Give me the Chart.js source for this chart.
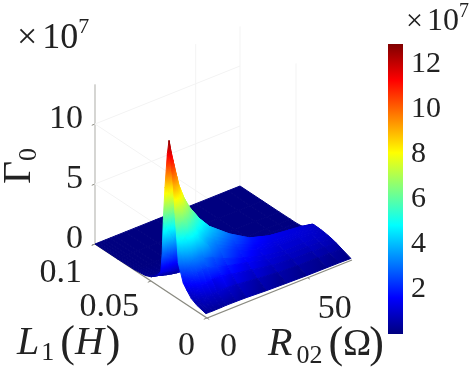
<!DOCTYPE html>
<html>
<head>
<meta charset="utf-8">
<style>
html, body { margin: 0; padding: 0; background: #fff; overflow: hidden; }
#wrap { position: relative; width: 474px; height: 369px; }
canvas { position: absolute; top: 0; filter: blur(0.4px); }
</style>
<script src="https://cdn.jsdelivr.net/npm/chart.js@4"></script>
</head>
<body>
<div id="wrap">
<canvas id="surface" width="474" height="369" style="left:0"></canvas>
<canvas id="colorbar" width="94" height="369" style="left:380px"></canvas>
</div>
<script>
// all gamma values are in units of 1e7
const rValues = [72, 66, 60, 50, 40, 30, 20, 15, 10, 7.5, 5, 3.5, 2, 1, 0];
const lValues = [0.1, 0.08, 0.065, 0.055, 0.05, 0.045, 0.0413, 0.04, 0.039, 0.0375, 0.0354, 0.0339,
    0.0315, 0.03, 0.0286, 0.0271, 0.0256, 0.0212, 0.018, 0.014, 0.009, 0.001];
// one row per L value, columns follow rValues
const gammaRows = [
    [0, 0, 0, 0, 0, 0, 0, 0, 0, 0, 0, 0, 0, 0, 0],
    [0, 0, 0, 0, 0, 0, 0, 0, 0, 0, 0, 0, 0, 0, 0],
    [0, 0, 0, 0, 0, 0, 0.01, 0.01, 0.01, 0.01, 0.01, 0.01, 0.02, 0.02, 0.03],
    [0.01, 0.01, 0.01, 0.01, 0.01, 0.02, 0.03, 0.04, 0.05, 0.07, 0.09, 0.11, 0.13, 0.14, 0.15],
    [0.01, 0.01, 0.01, 0.02, 0.02, 0.04, 0.07, 0.09, 0.13, 0.17, 0.22, 0.26, 0.3, 0.32, 0.35],
    [0.06, 0.07, 0.07, 0.07, 0.09, 0.14, 0.19, 0.24, 0.32, 0.4, 0.5, 0.57, 0.65, 0.7, 0.76],
    [0.2, 0.22, 0.24, 0.28, 0.38, 0.6, 0.8, 0.9, 1.0, 1.1, 1.2, 1.25, 1.3, 1.3, 1.3],
    [0.34, 0.36, 0.38, 0.42, 0.57, 0.87, 1.26, 1.55, 1.85, 2.05, 2.3, 2.5, 2.7, 2.8, 2.9],
    [0.45, 0.5, 0.54, 0.63, 0.85, 1.3, 1.9, 2.35, 2.9, 3.35, 3.9, 4.4, 4.9, 5.3, 5.75],
    [0.62, 0.74, 0.82, 0.95, 1.3, 1.97, 2.85, 3.55, 4.4, 5, 5.85, 6.6, 7.4, 8, 8.6],
    [0.8, 1, 1.1, 1.29, 1.75, 2.67, 3.85, 4.8, 5.95, 6.75, 7.8, 8.8, 9.9, 10.6, 11.5],
    [0.85, 1.07, 1.2, 1.4, 1.9, 2.9, 4.2, 5.2, 6.5, 7.4, 8.6, 9.7, 10.9, 11.7, 12.7],
    [0.84, 1.06, 1.18, 1.33, 1.8, 2.7, 3.85, 4.7, 6.0, 6.88, 7.91, 8.73, 9.6, 9.95, 10.4],
    [0.83, 1.04, 1.16, 1.28, 1.72, 2.55, 3.6, 4.4, 5.6, 6.4, 7.48, 8.15, 8.72, 8.9, 9.1],
    [0.82, 1.03, 1.13, 1.22, 1.62, 2.35, 3.35, 4.0, 5.2, 5.9, 6.79, 7.18, 7.41, 7.25, 7],
    [0.81, 1.01, 1.1, 1.16, 1.52, 2.2, 3.1, 3.7, 4.85, 5.4, 6.02, 6.21, 6.1, 5.62, 5.1],
    [0.8, 0.98, 1.06, 1.1, 1.43, 2.05, 2.9, 3.45, 4.5, 4.85, 5.16, 5.04, 4.58, 3.86, 3],
    [0.73, 0.88, 0.94, 0.95, 1.2, 1.7, 2.3, 2.7, 3.0, 3.15, 3.18, 2.91, 2.4, 1.99, 1.6],
    [0.66, 0.78, 0.83, 0.85, 1.05, 1.5, 1.9, 2.2, 2.4, 2.4, 2.32, 2.04, 1.74, 1.4, 1.2],
    [0.55, 0.62, 0.66, 0.7, 0.85, 1.15, 1.45, 1.65, 1.65, 1.6, 1.5, 1.36, 1.09, 0.94, 0.76],
    [0.36, 0.42, 0.44, 0.46, 0.55, 0.72, 0.92, 0.98, 0.95, 0.92, 0.86, 0.78, 0.65, 0.58, 0.5],
    [0.07, 0.09, 0.1, 0.11, 0.15, 0.2, 0.29, 0.31, 0.32, 0.3, 0.3, 0.29, 0.3, 0.3, 0.3]
];
const zTicks = [0, 5, 10];
const zTickLabels = ["0", "5", "10"];
const lTicks = [0, 0.05, 0.1];
const lTickLabels = ["0", "0.05", "0.1"];
const rTicks = [0, 50];
const rTickLabels = ["0", "50"];
const colorbarTicks = [2, 4, 6, 8, 10, 12];
const colorbarRange = [0, 12.9];

const R_MAX = 72, L_MAX = 0.1, Z_MAX = 13.3;
const serif = "'Liberation Serif', serif";

function project(r, l, g) {
    return {
        x: 207 + (r / R_MAX) * 145 - (l / L_MAX) * 112,
        y: 318 - (r / R_MAX) * 58 - (l / L_MAX) * 74 - g * 12
    };
}

function jet(v) {
    // v in 0..1, matlab style jet
    let r = Math.min(4 * v - 1.5, -4 * v + 4.5);
    let g = Math.min(4 * v - 0.5, -4 * v + 3.5);
    let b = Math.min(4 * v + 0.5, -4 * v + 2.5);
    r = Math.max(0, Math.min(1, r));
    g = Math.max(0, Math.min(1, g));
    b = Math.max(0, Math.min(1, b));
    return "rgb(" + Math.round(r * 255) + "," + Math.round(g * 255) + "," + Math.round(b * 255) + ")";
}

function gammaColor(g) {
    return jet((g - colorbarRange[0]) / (colorbarRange[1] - colorbarRange[0]));
}

function line3d(points, color, width) {
    return {
        data: points.map(p => project(p[0], p[1], p[2])),
        showLine: true,
        borderColor: color,
        borderWidth: width,
        pointRadius: 0,
        order: 1
    };
}

let datasets = [];
const gridColor = "#f3f3f3";
const axisColor = "#8b8b82";

// faint wall grid
for (const z of zTicks.slice(1)) {
    datasets.push(line3d([[0, 0, z], [0, L_MAX, z], [R_MAX, L_MAX, z]], gridColor, 1));
}
for (const r of rTicks.concat([R_MAX])) {
    datasets.push(line3d([[r, L_MAX, 0], [r, L_MAX, Z_MAX]], gridColor, 1));
}
datasets.push(line3d([[R_MAX, 0.05, 0], [R_MAX, 0.05, Z_MAX]], gridColor, 1));

// axes and tick marks
datasets.push(line3d([[0, L_MAX, 0], [0, L_MAX, Z_MAX]], axisColor, 1.2));
datasets.push(line3d([[0, L_MAX, 0], [0, 0, 0], [R_MAX, 0, 0]], axisColor, 1.2));
for (const z of zTicks) {
    datasets.push(line3d([[0, L_MAX, z], [-1.6, L_MAX, z]], axisColor, 1));
}
for (const l of lTicks) {
    datasets.push(line3d([[0, l, 0], [-1.6, l, 0]], axisColor, 1));
}
for (const r of rTicks) {
    datasets.push(line3d([[r, 0, 0], [r, -0.002, 0]], axisColor, 1));
}

// surface rows, back to front
lValues.forEach((l, i) => {
    datasets.push({
        label: "L=" + l,
        data: rValues.map((r, j) => project(r, l, gammaRows[i][j])),
        showLine: false,
        pointRadius: 0,
        surfaceRow: i,
        order: 0
    });
});

function drawRuns(ctx, x, y, runs, rotate) {
    ctx.save();
    ctx.translate(x, y);
    if (rotate) ctx.rotate(rotate);
    ctx.fillStyle = "#222";
    ctx.textAlign = "left";
    ctx.textBaseline = "alphabetic";
    let cx = 0;
    for (const run of runs) {
        ctx.font = (run.italic ? "italic " : "") + run.size + "px " + serif;
        ctx.fillText(run.t, cx, run.dy || 0);
        cx += ctx.measureText(run.t).width + (run.gap || 0);
    }
    ctx.restore();
}

const surfacePlugin = {
    id: "surfacePlugin",
    afterDatasetsDraw(chart) {
        const ctx = chart.ctx;
        const metas = [];
        chart.data.datasets.forEach((ds, k) => {
            if (ds.surfaceRow !== undefined) metas[ds.surfaceRow] = chart.getDatasetMeta(k).data;
        });
        ctx.save();
        ctx.lineWidth = 1;
        ctx.lineJoin = "round";
        for (let i = 0; i < metas.length - 1; i++) {
            for (let j = 0; j < rValues.length - 1; j++) {
                const corners = [[i, j], [i, j + 1], [i + 1, j + 1], [i + 1, j]];
                let lo = corners[0], hi = corners[0];
                for (const c of corners) {
                    if (gammaRows[c[0]][c[1]] < gammaRows[lo[0]][lo[1]]) lo = c;
                    if (gammaRows[c[0]][c[1]] > gammaRows[hi[0]][hi[1]]) hi = c;
                }
                const gLo = gammaRows[lo[0]][lo[1]], gHi = gammaRows[hi[0]][hi[1]];
                const pLo = metas[lo[0]][lo[1]], pHi = metas[hi[0]][hi[1]];
                let paint;
                if (gHi - gLo < 0.02) {
                    paint = gammaColor(gLo);
                } else {
                    paint = ctx.createLinearGradient(pLo.x, pLo.y, pHi.x, pHi.y);
                    for (let t = 0; t <= 6; t++) {
                        paint.addColorStop(t / 6, gammaColor(gLo + (gHi - gLo) * t / 6));
                    }
                }
                ctx.beginPath();
                corners.forEach((c, n) => {
                    const p = metas[c[0]][c[1]];
                    if (n === 0) ctx.moveTo(p.x, p.y); else ctx.lineTo(p.x, p.y);
                });
                ctx.closePath();
                ctx.fillStyle = paint;
                ctx.strokeStyle = paint;
                ctx.fill();
                ctx.stroke();
            }
        }
        ctx.restore();
    }
};

const labelPlugin = {
    id: "labelPlugin",
    afterDraw(chart) {
        const ctx = chart.ctx;
        const sx = chart.scales.x, sy = chart.scales.y;
        function at(r, l, g) {
            const p = project(r, l, g);
            return { x: sx.getPixelForValue(p.x), y: sy.getPixelForValue(p.y) };
        }
        function tick(text, p, dx, dy) {
            ctx.font = "34px " + serif;
            const w = ctx.measureText(text).width;
            drawRuns(ctx, p.x + dx - w, p.y + dy, [{ t: text, size: 34 }]);
        }
        zTicks.forEach((z, i) => tick(zTickLabels[i], at(0, L_MAX, z), -12, 4));
        lTicks.forEach((l, i) => {
            const p = at(0, l, 0);
            if (l === 0) tick(lTickLabels[i], p, -12, 37);
            else if (l === 0.05) tick(lTickLabels[i], p, -12, 35);
            else tick(lTickLabels[i], p, -13, 38);
        });
        rTicks.forEach((r, i) => {
            const p = at(r, 0, 0);
            if (r === 0) tick(rTickLabels[i], p, 30, 38);
            else tick(rTickLabels[i], p, 44, 40);
        });
        drawRuns(ctx, 17, 354, [
            { t: "L", size: 40, italic: true, gap: 2 },
            { t: "1", size: 26, dy: 6, gap: 6 },
            { t: "(", size: 44, dy: 2 },
            { t: "H", size: 40, italic: true, gap: 2 },
            { t: ")", size: 44, dy: 2 }
        ]);
        drawRuns(ctx, 268, 355, [
            { t: "R", size: 40, italic: true, gap: 4 },
            { t: "02", size: 26, dy: 8, gap: 6 },
            { t: "(", size: 44, dy: 2 },
            { t: "Ω", size: 38, gap: -2 },
            { t: ")", size: 44, dy: 2 }
        ]);
        drawRuns(ctx, 30, 184, [
            { t: "Γ", size: 40 },
            { t: "0", size: 26, dy: 6 }
        ], -Math.PI / 2);
        drawRuns(ctx, 17, 48, [
            { t: "×", size: 36, gap: 5 },
            { t: "10", size: 36, gap: 0 },
            { t: "7", size: 22, dy: -15 }
        ]);
        drawRuns(ctx, 406, 30, [
            { t: "×", size: 30, gap: 4 },
            { t: "10", size: 32, gap: 0 },
            { t: "7", size: 20, dy: -13 }
        ]);
    }
};

new Chart(document.getElementById("surface"), {
    type: "scatter",
    data: { datasets: datasets },
    options: {
        responsive: false,
        animation: false,
        devicePixelRatio: 1,
        layout: { padding: 0 },
        plugins: { legend: { display: false }, tooltip: { enabled: false } },
        scales: {
            x: { type: "linear", min: 0, max: 474, display: false },
            y: { type: "linear", min: 0, max: 369, reverse: true, display: false }
        }
    },
    plugins: [surfacePlugin, labelPlugin]
});

new Chart(document.getElementById("colorbar"), {
    type: "bar",
    data: {
        labels: [""],
        datasets: [{
            data: [colorbarRange],
            barPercentage: 1,
            categoryPercentage: 1,
            backgroundColor: function (context) {
                const area = context.chart.chartArea;
                if (!area) return "#000080";
                const grad = context.chart.ctx.createLinearGradient(0, area.bottom, 0, area.top);
                for (let k = 0; k <= 64; k++) grad.addColorStop(k / 64, jet(k / 64));
                return grad;
            }
        }]
    },
    options: {
        responsive: false,
        animation: false,
        devicePixelRatio: 1,
        layout: { padding: { left: 8, top: 44, bottom: 35, right: 0 } },
        plugins: { legend: { display: false }, tooltip: { enabled: false } },
        scales: {
            x: { display: false },
            y: {
                position: "right",
                min: colorbarRange[0],
                max: colorbarRange[1],
                afterFit: function (scale) { scale.width = 71; },
                afterBuildTicks: function (scale) {
                    scale.ticks = colorbarTicks.map(v => ({ value: v }));
                },
                border: { display: false },
                grid: { display: false, tickLength: 0 },
                ticks: {
                    padding: 8,
                    color: "#222",
                    autoSkip: false,
                    font: { family: serif, size: 30 }
                }
            }
        }
    }
});
</script>
</body>
</html>
